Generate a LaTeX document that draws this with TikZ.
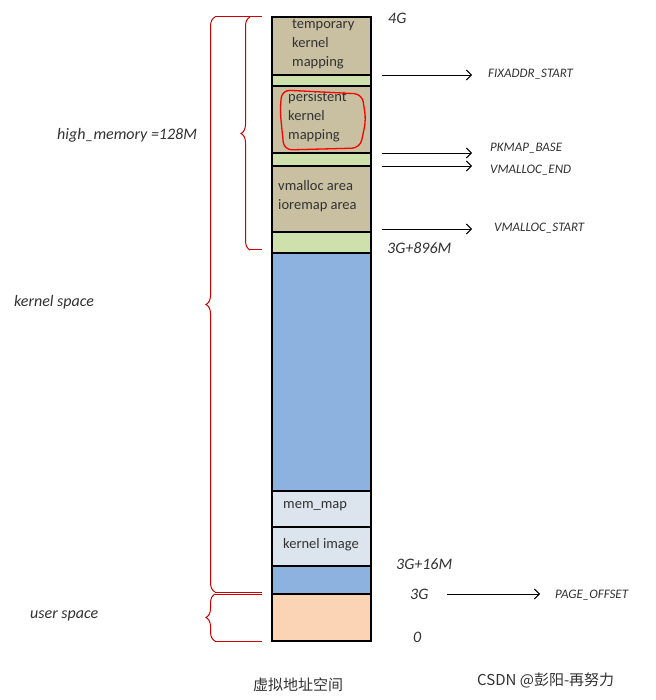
\documentclass[tikz,border=0pt]{standalone}
\usepackage{fontspec}
\setmainfont{Carlito}
\newfontfamily\cjk{Noto Sans CJK SC}
\usetikzlibrary{decorations.pathreplacing,arrows.meta}
\definecolor{tan}{RGB}{200,192,160}
\definecolor{lgreen}{RGB}{206,224,172}
\definecolor{mblue}{RGB}{142,178,224}
\definecolor{lgray}{RGB}{220,228,238}
\definecolor{peach}{RGB}{250,212,180}
\definecolor{txt}{RGB}{50,50,50}
\begin{document}
\begin{tikzpicture}[x=1pt,y=-1pt,
 seg/.style={draw=black,line width=1.6pt},
 lab/.style={text=txt,font=\itshape\fontsize{16}{16}\selectfont,anchor=west,inner sep=0pt},
 sl/.style={lab,font=\itshape\fontsize{13}{13}\selectfont},
 box/.style={text=txt,font=\fontsize{14.5}{19}\selectfont,align=left,anchor=north west,inner sep=0pt},
 arr/.style={-{Straight Barb[length=5pt]},line width=0.9pt},
 br/.style={red!80!black,line width=1pt,decorate,decoration={brace,amplitude=9pt}}]
\useasboundingbox (0,0) rectangle (655,700);
\fill[white] (0,0) rectangle (655,700);
\filldraw[seg,fill=tan] (272,17) rectangle (371,75);
\filldraw[seg,fill=lgreen] (272,75) rectangle (371,86);
\filldraw[seg,fill=tan] (272,86) rectangle (371,153);
\filldraw[seg,fill=lgreen] (272,153) rectangle (371,166);
\filldraw[seg,fill=tan] (272,166) rectangle (371,232);
\filldraw[seg,fill=lgreen] (272,232) rectangle (371,253);
\filldraw[seg,fill=mblue] (272,253) rectangle (371,491);
\filldraw[seg,fill=lgray] (272,491) rectangle (371,527);
\filldraw[seg,fill=lgray] (272,527) rectangle (371,566);
\filldraw[seg,fill=mblue] (272,566) rectangle (371,594);
\filldraw[seg,fill=peach] (272,594) rectangle (371,641);
\node[box] (tk) at (292,19) {temporary\\kernel\\mapping};
\node[box] (pk) at (288,91) {persistent\\kernel\\mapping};
\node[box] (vm) at (278,180) {vmalloc area\\ioremap area};
\node[box] (mm) at (283,501) {mem\_map};
\node[box] (ki) at (283,538) {kernel image};
\draw[red,line width=1.3pt,rounded corners=8pt] (282,90) -- (362,94) -- (366,120) -- (360,148) -- (284,150) -- (280,110) -- cycle;
\node[lab] (g4) at (388,18) {4G};
\node[lab] (g896) at (387,248) {3G+896M};
\node[lab] (g16) at (396,564) {3G+16M};
\node[lab] (g3) at (410,594) {3G};
\node[lab] (g0) at (413,637) {0};
\node[sl] (fx) at (488,74) {FIXADDR\_START};
\node[sl] (pb) at (490,148) {PKMAP\_BASE};
\node[sl] (ve) at (490,170) {VMALLOC\_END};
\node[sl] (vs) at (494,228) {VMALLOC\_START};
\node[sl] (po) at (555,595) {PAGE\_OFFSET};
\coordinate (a1) at (382,75); \coordinate (b1) at (472,75);
\coordinate (a2) at (382,153); \coordinate (b2) at (472,153);
\coordinate (a3) at (382,166); \coordinate (b3) at (472,166);
\coordinate (a4) at (382,229); \coordinate (b4) at (472,229);
\coordinate (a5) at (447,594); \coordinate (b5) at (540,594);
\draw[arr] (a1) -- (b1); \draw[arr] (a2) -- (b2); \draw[arr] (a3) -- (b3);
\draw[arr] (a4) -- (b4); \draw[arr] (a5) -- (b5);
\draw[br] (250,250) -- (250,17);
\draw[br] (215,592) -- (215,17);
\draw[br] (215,641) -- (215,594);
\draw[red!80!black,line width=1pt] (250,17) -- (262,17) (250,250) -- (262,250) (215,17) -- (262,17) (215,592) -- (262,592) (215,594) -- (262,594) (215,641) -- (262,641);
\node[lab] (hm) at (57,135) {high\_memory =128M};
\node[lab] (ks) at (14,302) {kernel space};
\node[lab] (us) at (30,616) {user space};
\node[lab,font=\cjk\fontsize{15}{15}\selectfont] (cap) at (253,685) {虚拟地址空间};
\node[lab,font=\cjk\fontsize{15}{15}\selectfont] (wm) at (477,680) {CSDN @彭阳-再努力};
\end{tikzpicture}
\end{document}
